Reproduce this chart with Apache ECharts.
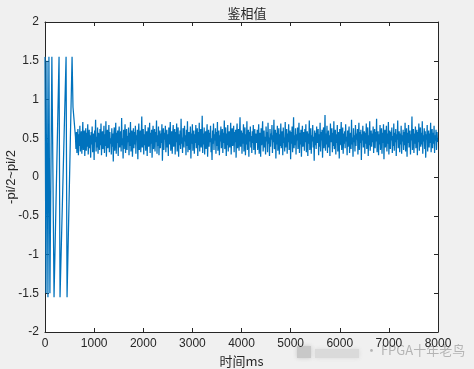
<!DOCTYPE html>
<html><head><meta charset="utf-8">
<script src="https://cdn.jsdelivr.net/npm/echarts@6/dist/echarts.min.js"></script>
<style>html,body{margin:0;padding:0;background:#f0f0f0;}#c{width:474px;height:369px;}</style>
</head><body><div id="c"></div>
<script>
// Initial phase-wrapping section: [time ms, value]
const startTimes = [0, 20, 40, 60, 80, 100, 140, 184, 286, 306, 429, 449, 551, 570];
const startValues = [1.55, -1.5, 1.5, -1.55, 1.55, -1.5, 1.55, -1.55, 1.55, -1.55, 1.55, -1.55, 1.55, 0.9];
// Steady-state section, sampled every 10 ms from 620 ms
const noiseStartMs = 620;
const noiseStepMs = 10;
const noiseValues = [
.52,.36,.58,.31,.49,.62,.28,.55,.40,.66,.33,.47,.59,.30,.53,.71,.35,.44,.60,.27,
.50,.63,.34,.57,.39,.68,.29,.46,.61,.37,.54,.25,.58,.42,.65,.32,.49,.56,.22,.60,
.45,.74,.33,.52,.38,.64,.30,.57,.47,.35,.62,.41,.69,.28,.51,.59,.36,.48,.66,.31,
.55,.40,.72,.26,.53,.61,.37,.45,.67,.32,.58,.43,.50,.29,.63,.39,.56,.20,.54,.64,
.34,.49,.70,.30,.57,.44,.60,.27,.52,.65,.38,.46,.59,.33,.76,.41,.50,.24,.61,.36,
.55,.68,.31,.48,.62,.35,.53,.45,.64,.28,.57,.40,.71,.33,.51,.60,.26,.47,.63,.37,
.58,.42,.66,.30,.54,.49,.61,.23,.56,.69,.35,.44,.60,.32,.52,.78,.38,.47,.62,.29,
.55,.41,.67,.34,.50,.59,.27,.53,.64,.39,.46,.70,.31,.57,.43,.61,.25,.52,.66,.36,
.49,.62,.33,.58,.45,.73,.30,.54,.40,.65,.28,.51,.60,.37,.56,.44,.68,.21,.53,.63,
.35,.57,.48,.66,.32,.50,.61,.38,.55,.27,.64,.42,.52,.71,.34,.47,.59,.30,.56,.67,
.39,.53,.62,.29,.58,.45,.69,.33,.49,.64,.26,.55,.41,.60,.36,.75,.43,.51,.31,.63,
.57,.38,.66,.46,.54,.28,.61,.40,.72,.32,.50,.58,.35,.47,.65,.24,.56,.43,.68,.34,
.52,.60,.30,.55,.44,.67,.37,.49,.63,.27,.58,.41,.70,.33,.53,.62,.38,.46,.79,.31,
.56,.42,.64,.29,.51,.59,.36,.54,.68,.26,.48,.61,.39,.57,.45,.66,.32,.50,.22,.60,
.43,.69,.35,.55,.47,.63,.30,.58,.40,.71,.34,.52,.60,.28,.54,.46,.65,.37,.49,.62,
.31,.57,.44,.73,.36,.50,.64,.27,.56,.41,.67,.33,.53,.59,.38,.47,.70,.29,.55,.63,
.40,.52,.66,.32,.58,.45,.61,.25,.54,.69,.37,.48,.62,.34,.56,.77,.39,.50,.60,.30,
.57,.43,.68,.33,.51,.64,.28,.55,.42,.72,.35,.49,.61,.26,.58,.46,.65,.38,.53,.31,
.59,.44,.67,.35,.50,.62,.29,.56,.48,
.44,.61,.35,.53,.68,.30,.49,.57,.26,.63,.41,.55,.72,.33,.47,.60,.38,.52,.29,.65,
.46,.58,.32,.70,.43,.51,.27,.62,.39,.56,.48,.67,.31,.54,.45,.74,.36,.50,.61,.24,
.57,.42,.66,.34,.49,.63,.29,.55,.40,.69,.37,.52,.59,.28,.64,.44,.51,.33,.71,.38,
.53,.62,.30,.56,.45,.68,.35,.48,.60,.23,.58,.43,.65,.32,.50,.77,.37,.54,.41,.63,
.29,.55,.47,.64,.36,.52,.70,.31,.57,.42,.61,.26,.53,.66,.39,.49,.58,.34,.62,.45,
.68,.32,.51,.59,.27,.56,.43,.73,.35,.48,.63,.30,.54,.46,.67,.38,.52,.21,.60,.41,
.57,.36,.65,.44,.50,.62,.28,.55,.39,.70,.33,.58,.47,.61,.25,.53,.64,.37,.49,.80,
.34,.56,.42,.66,.31,.51,.60,.38,.54,.27,.69,.45,.52,.63,.32,.57,.40,.72,.36,.48,
.61,.29,.55,.44,.67,.33,.50,.58,.24,.62,.41,.53,.71,.35,.47,.64,.30,.56,.43,.59,
.37,.68,.46,.52,.28,.60,.39,.55,.65,.31,.49,.57,.36,.74,.42,.51,.26,.63,.45,.54,
.33,.67,.40,.56,.48,.62,.29,.53,.70,.35,.58,.44,.61,.22,.55,.47,.66,.38,.50,.59,
.30,.57,.43,.69,.36,.52,.64,.27,.54,.41,.72,.34,.49,.60,.39,.56,.45,.65,.31,.53,
.62,.37,.58,.46,.75,.32,.51,.59,.28,.55,.42,.67,.35,.50,.63,.30,.57,.44,.68,.23,
.54,.61,.38,.49,.66,.33,.56,.43,.71,.29,.52,.60,.36,.58,.47,.64,.31,.53,.40,.69,
.34,.57,.45,.62,.27,.55,.48,.73,.37,.51,.59,.32,.56,.42,.66,.30,.54,.46,.61,.35,
.58,.41,.70,.33,.50,.63,.26,.57,.44,.67,.38,.52,.60,.29,.55,.47,.78,.35,.49,.62,
.31,.56,.43,.65,.37,.53,.61,.28,.58,.45,.69,.34,.51,.64,.39,.57,.42,.72,.30,.54,
.46,.63,.36,.59,.25,.55,.48,.67,.33,.52,.60,.38,.56,.44,.70,.32,.50,.62,.37,.57,
.43,.66,.31,.54,.47,.61,.35,.58,.45
];
const titleText = '鉴相值';
const xName = '时间ms';
const yName = '-pi/2~pi/2';
const watermark = '· FPGA十年老鸟';

const data = [];
for (let i = 0; i < startTimes.length; i++) data.push([startTimes[i], startValues[i]]);
for (let i = 0; i < noiseValues.length; i++) data.push([noiseStartMs + i * noiseStepMs, noiseValues[i]]);

const axisCol = '#262626';
const labelCol = '#262626';
const font = 'Liberation Sans, Arial, sans-serif';

const chart = echarts.init(document.getElementById('c'));
chart.setOption({
  backgroundColor: '#f0f0f0',
  animation: false,
  title: {text: titleText, left: 242, top: 2, textAlign: 'center',
    textStyle: {fontSize: 13, fontWeight: 'normal', color: '#262626', fontFamily: 'Noto Sans CJK SC'}},
  grid: {left: 45, right: 36, top: 22, bottom: 37, show: true, backgroundColor: '#ffffff', borderWidth: 0,
    containLabel: false, outerBoundsMode: 'none'},
  xAxis: [{
    type: 'value', min: 0, max: 8000, interval: 1000, position: 'bottom',
    name: xName, nameLocation: 'middle', nameGap: 23,
    nameTextStyle: {fontSize: 13, color: labelCol, fontFamily: 'Noto Sans CJK SC'},
    axisLine: {show: true, onZero: false, lineStyle: {color: axisCol, width: 1}},
    axisTick: {show: true, inside: true, length: 4, lineStyle: {color: axisCol}},
    axisLabel: {fontSize: 12, color: labelCol, margin: 6, fontFamily: font, formatter: v => String(v)},
    splitLine: {show: false}
  }, {
    type: 'value', min: 0, max: 8000, interval: 1000, position: 'top',
    axisLine: {show: true, onZero: false, lineStyle: {color: axisCol, width: 1}},
    axisTick: {show: true, inside: true, length: 4, lineStyle: {color: axisCol}},
    axisLabel: {show: false}, splitLine: {show: false}
  }],
  yAxis: [{
    type: 'value', min: -2, max: 2, interval: 0.5, position: 'left',
    axisLine: {show: true, onZero: false, lineStyle: {color: axisCol, width: 1}},
    axisTick: {show: true, inside: true, length: 4, lineStyle: {color: axisCol}},
    axisLabel: {fontSize: 12, color: labelCol, margin: 6, fontFamily: font},
    splitLine: {show: false}
  }, {
    type: 'value', min: -2, max: 2, interval: 0.5, position: 'right',
    axisLine: {show: true, onZero: false, lineStyle: {color: axisCol, width: 1}},
    axisTick: {show: true, inside: true, length: 4, lineStyle: {color: axisCol}},
    axisLabel: {show: false}, splitLine: {show: false}
  }],
  series: [{
    type: 'line', data: data, xAxisIndex: 0, yAxisIndex: 0,
    showSymbol: false, symbol: 'none', sampling: null,
    lineStyle: {color: '#0072BD', width: 1.25}
  }],
  graphic: [
    {type: 'text', x: 11, y: 177, rotation: Math.PI / 2,
      style: {text: yName, fill: labelCol, font: '13px ' + font, align: 'center', verticalAlign: 'middle'}},
    {type: 'rect', left: 297, top: 346, shape: {width: 14, height: 12},
      style: {fill: '#c8c8c8', shadowBlur: 4, shadowColor: '#c8c8c8'}},
    {type: 'rect', left: 315, top: 349, shape: {width: 44, height: 9},
      style: {fill: '#dadada', shadowBlur: 4, shadowColor: '#dadada'}},
    {type: 'text', left: 365, top: 344,
      style: {text: watermark, fill: '#b4b4b4', font: '13px "Noto Sans CJK SC"'}}
  ]
});
</script></body></html>
